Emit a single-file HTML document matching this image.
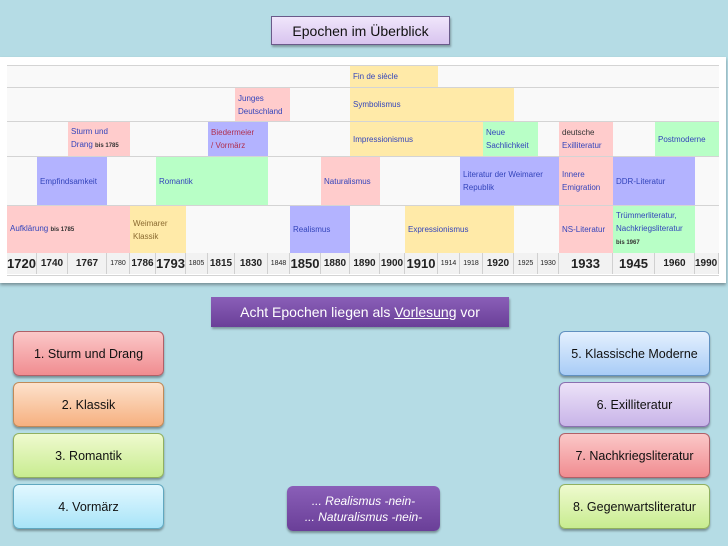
<!DOCTYPE html>
<html><head><meta charset="utf-8"><style>
body{margin:0;width:728px;height:546px;background:#b5dce5;position:relative;overflow:hidden;font-family:"Liberation Sans",sans-serif}
.a{position:absolute;box-sizing:border-box}
#panel{left:0;top:57px;width:726px;height:226px;background:#fff;box-shadow:0 2px 3px rgba(0,0,0,.35)}
.c{position:absolute;box-sizing:border-box;font-size:8px;color:#3344bb;padding:0 3px;display:flex;align-items:center;line-height:13px;white-space:nowrap}
.line{position:absolute;left:7px;width:712px;height:1px;background:#d4d4d4}
.pk{background:#ffcccc}.ye{background:#ffeaa8}.bl{background:#b3b3ff}.gr{background:#b8ffc6}
.sm{font-size:6px;font-weight:bold;color:#333}
.y{position:absolute;top:253px;height:21px;background:#f2f2f2;border-right:1px solid #d0d0d0;font-weight:bold;font-size:10px;color:#222;display:flex;align-items:center;justify-content:center;box-sizing:border-box}
.y.b{font-size:13px}.y.s{font-size:7px;font-weight:normal}
.btn{position:absolute;width:151px;height:45px;border-radius:6px;box-sizing:border-box;display:flex;align-items:center;justify-content:center;font-size:12.5px;color:#111;box-shadow:0 2px 2px rgba(0,0,0,.35)}
.pur{position:absolute;background:linear-gradient(#8a5fb8,#6a3f98);color:#fff;display:flex;align-items:center;justify-content:center;box-sizing:border-box}
</style></head><body>
<div class="a" style="left:271px;top:16px;width:179px;height:29px;background:linear-gradient(#f0e6fb,#d8c4ef);border:1px solid #6a5a8a;box-shadow:1px 2px 2px rgba(0,0,0,.3);display:flex;align-items:center;justify-content:center;font-size:14px;color:#111">Epochen im Überblick</div>
<div class="a" id="panel"></div>
<div class="a" style="left:7px;top:65px;width:712px;height:209px;background:#f9f9f9"></div>
<div class="line" style="top:65px"></div><div class="line" style="top:87px"></div><div class="line" style="top:121px"></div><div class="line" style="top:156px"></div><div class="line" style="top:205px"></div><div class="line" style="top:253px"></div><div class="line" style="top:275px"></div>
<div class="c ye" style="left:350px;top:66px;width:88px;height:21px"><div>Fin de siècle</div></div>
<div class="c pk" style="left:235px;top:88px;width:55px;height:33px"><div>Junges<br>Deutschland</div></div>
<div class="c ye" style="left:350px;top:88px;width:164px;height:33px"><div>Symbolismus</div></div>
<div class="c pk" style="left:68px;top:122px;width:62px;height:34px"><div>Sturm und<br>Drang <span class="sm">bis 1785</span></div></div>
<div class="c bl" style="left:208px;top:122px;width:60px;height:34px;color:#b03050"><div>Biedermeier<br>/ Vormärz</div></div>
<div class="c ye" style="left:350px;top:122px;width:133px;height:34px"><div>Impressionismus</div></div>
<div class="c gr" style="left:483px;top:122px;width:55px;height:34px"><div>Neue<br>Sachlichkeit</div></div>
<div class="c pk" style="left:559px;top:122px;width:54px;height:34px"><div><span style="color:#333">deutsche</span><br>Exilliteratur</div></div>
<div class="c gr" style="left:655px;top:122px;width:64px;height:34px"><div>Postmoderne</div></div>
<div class="c bl" style="left:37px;top:157px;width:70px;height:48px"><div>Empfindsamkeit</div></div>
<div class="c gr" style="left:156px;top:157px;width:112px;height:48px"><div>Romantik</div></div>
<div class="c pk" style="left:321px;top:157px;width:59px;height:48px"><div>Naturalismus</div></div>
<div class="c bl" style="left:460px;top:157px;width:99px;height:48px"><div>Literatur der Weimarer<br>Republik</div></div>
<div class="c pk" style="left:559px;top:157px;width:54px;height:48px"><div>Innere<br>Emigration</div></div>
<div class="c bl" style="left:613px;top:157px;width:82px;height:48px"><div>DDR-Literatur</div></div>
<div class="c pk" style="left:7px;top:206px;width:123px;height:47px"><div>Aufklärung <span class="sm">bis 1785</span></div></div>
<div class="c ye" style="left:130px;top:206px;width:56px;height:47px;color:#8a6a30"><div>Weimarer<br>Klassik</div></div>
<div class="c bl" style="left:290px;top:206px;width:60px;height:47px"><div>Realismus</div></div>
<div class="c ye" style="left:405px;top:206px;width:109px;height:47px"><div>Expressionismus</div></div>
<div class="c pk" style="left:559px;top:206px;width:54px;height:47px"><div>NS-Literatur</div></div>
<div class="c gr" style="left:613px;top:206px;width:82px;height:47px"><div>Trümmerliteratur,<br>Nachkriegsliteratur<br><span class="sm">bis 1967</span></div></div>
<div class="y b" style="left:7px;width:30px">1720</div>
<div class="y" style="left:37px;width:31px">1740</div>
<div class="y" style="left:68px;width:39px">1767</div>
<div class="y s" style="left:107px;width:23px">1780</div>
<div class="y" style="left:130px;width:26px">1786</div>
<div class="y b" style="left:156px;width:30px">1793</div>
<div class="y s" style="left:186px;width:22px">1805</div>
<div class="y" style="left:208px;width:27px">1815</div>
<div class="y" style="left:235px;width:33px">1830</div>
<div class="y s" style="left:268px;width:22px">1848</div>
<div class="y b" style="left:290px;width:31px">1850</div>
<div class="y" style="left:321px;width:29px">1880</div>
<div class="y" style="left:350px;width:30px">1890</div>
<div class="y" style="left:380px;width:25px">1900</div>
<div class="y b" style="left:405px;width:33px">1910</div>
<div class="y s" style="left:438px;width:22px">1914</div>
<div class="y s" style="left:460px;width:23px">1918</div>
<div class="y" style="left:483px;width:31px">1920</div>
<div class="y s" style="left:514px;width:24px">1925</div>
<div class="y s" style="left:538px;width:21px">1930</div>
<div class="y b" style="left:559px;width:54px">1933</div>
<div class="y b" style="left:613px;width:42px">1945</div>
<div class="y" style="left:655px;width:40px">1960</div>
<div class="y" style="left:695px;width:24px;justify-content:flex-start">1990</div>
<div class="pur" style="left:211px;top:297px;width:298px;height:30px;font-size:14px;box-shadow:1px 2px 2px rgba(0,0,0,.3)">Acht Epochen liegen als&nbsp;<u>Vorlesung </u>&nbsp;vor</div>
<div class="btn" style="left:13px;top:331px;background:linear-gradient(#fbc8c8,#f08c90);border:1px solid #b06068">1. Sturm und Drang</div>
<div class="btn" style="left:13px;top:382px;background:linear-gradient(#fde2cc,#f6b080);border:1px solid #c08a58">2. Klassik</div>
<div class="btn" style="left:13px;top:433px;background:linear-gradient(#effacf,#c8ec90);border:1px solid #90b060">3. Romantik</div>
<div class="btn" style="left:13px;top:484px;background:linear-gradient(#e2f8ff,#a8e4f8);border:1px solid #60a8c0">4. Vormärz</div>
<div class="btn" style="left:559px;top:331px;background:linear-gradient(#e4f0fe,#a8ccf6);border:1px solid #6090c0">5. Klassische Moderne</div>
<div class="btn" style="left:559px;top:382px;background:linear-gradient(#ece2f8,#c8b4e8);border:1px solid #8a70b0">6. Exilliteratur</div>
<div class="btn" style="left:559px;top:433px;background:linear-gradient(#fbc8c8,#f08c90);border:1px solid #b06068">7. Nachkriegsliteratur</div>
<div class="btn" style="left:559px;top:484px;background:linear-gradient(#effacf,#c8ec90);border:1px solid #90b060">8. Gegenwartsliteratur</div>
<div class="pur" style="left:287px;top:486px;width:153px;height:45px;border-radius:6px;font-size:12px;font-style:italic;line-height:16px;text-align:center;box-shadow:0 2px 2px rgba(0,0,0,.35)">... Realismus -nein-<br>... Naturalismus -nein-</div>
</body></html>
